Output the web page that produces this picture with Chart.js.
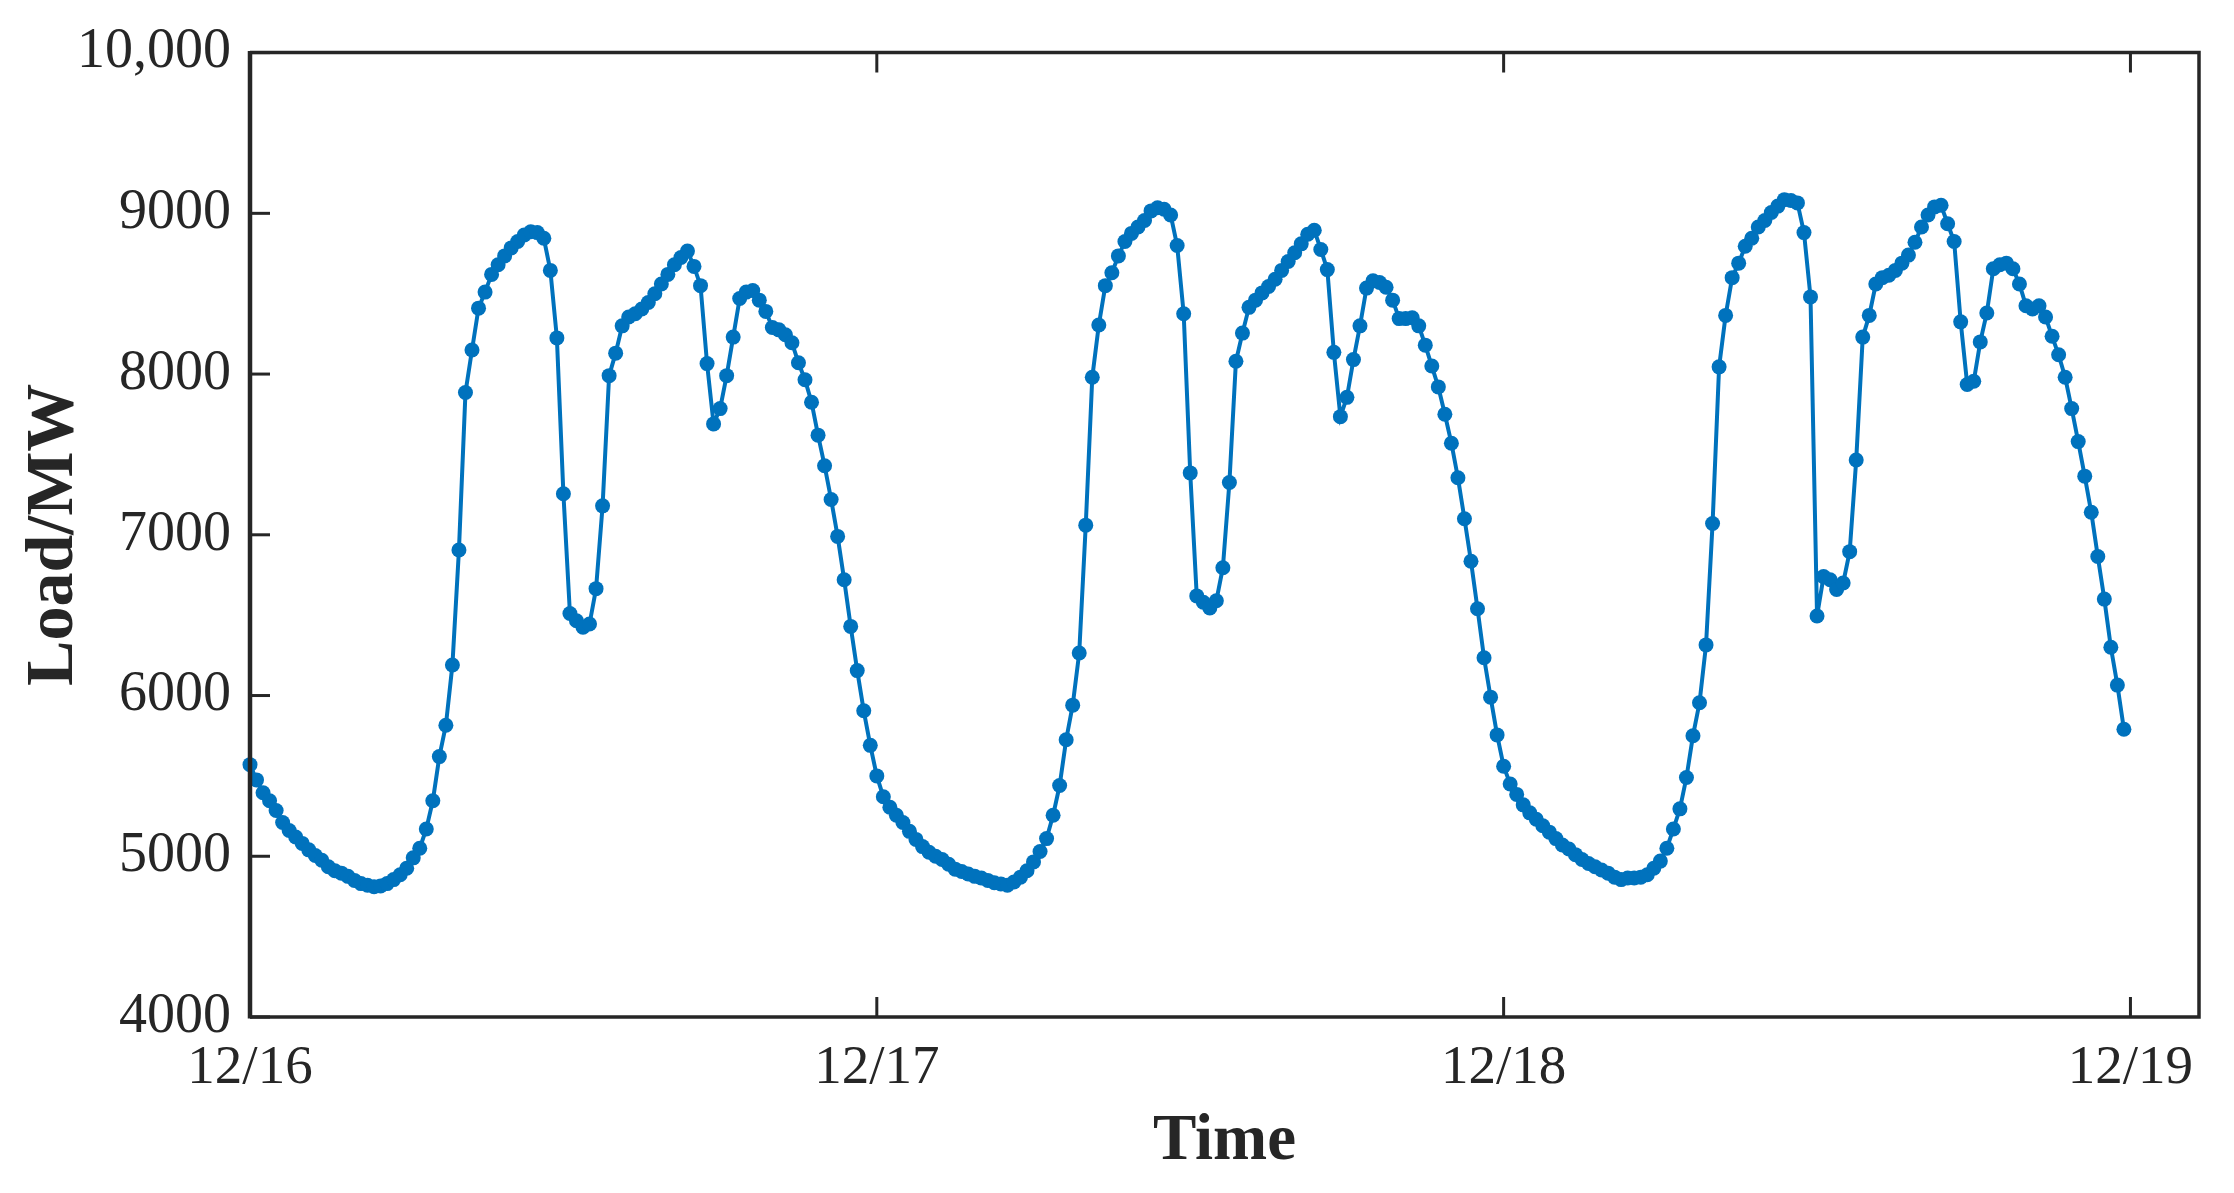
<!DOCTYPE html>
<html>
<head>
<meta charset="utf-8">
<script src="https://cdn.jsdelivr.net/npm/chart.js@4.4.1/dist/chart.umd.min.js"></script>
<style>
  html, body { margin: 0; padding: 0; background: #ffffff; }
  #wrap { width: 2234px; height: 1193px; }
</style>
</head>
<body>
<div id="wrap"><canvas id="c" width="2234" height="1193"></canvas></div>
<script>
// 15-minute load readings (MW), 96 per day
const day1 = [
  5570, 5475, 5395, 5345, 5285, 5210, 5160, 5120, 5080, 5040, 5005, 4975,
  4935, 4910, 4895, 4875, 4850, 4830, 4820, 4810, 4815, 4830, 4855, 4885,
  4925, 4990, 5050, 5170, 5345, 5620, 5815, 6190, 6905, 7885, 8150, 8410,
  8510, 8620, 8680, 8735, 8785, 8825, 8865, 8885, 8880, 8845, 8645, 8225,
  7255, 6510, 6465, 6425, 6445, 6665, 7180, 7990, 8130, 8300, 8355, 8375,
  8405, 8445, 8500, 8560, 8620, 8680, 8725, 8765, 8670, 8550, 8065, 7690,
  7785, 7990, 8230, 8470, 8510, 8520, 8460, 8390, 8290, 8275, 8245, 8195,
  8070, 7965, 7825, 7620, 7430, 7220, 6990, 6720, 6430, 6155, 5905, 5690
];
const day2 = [
  5500, 5370, 5305, 5255, 5210, 5155, 5105, 5060, 5025, 5000, 4980, 4950,
  4920, 4905, 4890, 4875, 4865, 4850, 4835, 4828, 4820, 4840, 4870, 4910,
  4965, 5030, 5110, 5255, 5440, 5725, 5940, 6265, 7060, 7980, 8305, 8550,
  8630, 8735, 8825, 8875, 8915, 8955, 9015, 9035, 9025, 8990, 8800, 8375,
  7385, 6620, 6580, 6545, 6590, 6795, 7325, 8080, 8255, 8415, 8460, 8505,
  8545, 8590, 8645, 8700, 8755, 8810, 8870, 8895, 8775, 8650, 8135, 7735,
  7855, 8090, 8300, 8535, 8580, 8570, 8540, 8460, 8345, 8345, 8350, 8300,
  8180, 8050, 7920, 7750, 7570, 7355, 7100, 6835, 6540, 6235, 5990, 5755
];
const day3 = [
  5560, 5450, 5385, 5320, 5270, 5230, 5190, 5150, 5110, 5070, 5045, 5010,
  4980, 4955, 4935, 4915, 4895, 4870, 4855, 4865, 4865, 4870, 4885, 4925,
  4970, 5050, 5170, 5295, 5490, 5750, 5955, 6315, 7070, 8045, 8365, 8600,
  8690, 8795, 8845, 8915, 8955, 9005, 9045, 9085, 9080, 9065, 8880, 8480,
  6495, 6740, 6720, 6660, 6700, 6895, 7465, 8230, 8365, 8560, 8600, 8615,
  8645, 8690, 8740, 8820, 8915, 8990, 9040, 9050, 8935, 8825, 8325, 7935,
  7955, 8200, 8380, 8655, 8680, 8690, 8655, 8560, 8425, 8405, 8425, 8355,
  8235, 8120, 7980, 7785, 7580, 7365, 7140, 6865, 6600, 6300, 6065, 5790
];
const dateLabels = ['12/16', '12/17', '12/18', '12/19'];
const yTicks = [4000, 5000, 6000, 7000, 8000, 9000, 10000];
const pointsPerDay = 96;

const load = [...day1, ...day2, ...day3];
const points = load.map((v, i) => ({ x: i, y: v }));
const xTickValues = dateLabels.map((_, d) => d * pointsPerDay);

const AXIS = '#262626';
const BLUE = '#0072BD';

const frame = {
  id: 'frame',
  afterDraw(chart) {
    const { ctx, chartArea: a, scales } = chart;
    ctx.save();
    ctx.strokeStyle = AXIS;
    ctx.lineCap = 'butt';
    // ticks (inward)
    ctx.lineWidth = 3;
    xTickValues.forEach(v => {
      const px = scales.x.getPixelForValue(v);
      ctx.beginPath();
      ctx.moveTo(px, a.bottom); ctx.lineTo(px, a.bottom - 20);
      ctx.moveTo(px, a.top); ctx.lineTo(px, a.top + 20);
      ctx.stroke();
    });
    yTicks.forEach(v => {
      const py = scales.y.getPixelForValue(v);
      ctx.beginPath();
      ctx.moveTo(a.left, py); ctx.lineTo(a.left + 20, py);
      ctx.stroke();
    });
    // box
    ctx.lineWidth = 3.5;
    ctx.beginPath();
    ctx.moveTo(a.left, a.top); ctx.lineTo(a.right, a.top);
    ctx.lineTo(a.right, a.bottom); ctx.lineTo(a.left, a.bottom);
    ctx.stroke();
    ctx.lineWidth = 4.5;
    ctx.beginPath();
    ctx.moveTo(a.left, a.top - 1.5); ctx.lineTo(a.left, a.bottom + 1.5);
    ctx.stroke();
    ctx.restore();
  }
};

new Chart(document.getElementById('c'), {
  type: 'line',
  data: {
    datasets: [{
      data: points,
      borderColor: BLUE,
      backgroundColor: BLUE,
      borderWidth: 4,
      pointRadius: 7.5,
      pointBorderWidth: 0,
      pointBackgroundColor: BLUE,
      tension: 0,
      clip: false
    }]
  },
  options: {
    responsive: false,
    devicePixelRatio: 1,
    animation: false,
    events: [],
    layout: { padding: { left: 0, right: 35, top: 42, bottom: 0 } },
    plugins: { legend: { display: false }, tooltip: { enabled: false } },
    scales: {
      x: {
        type: 'linear',
        min: 0,
        max: 298.5,
        afterBuildTicks: s => { s.ticks = xTickValues.map(v => ({ value: v })); },
        afterFit: s => { s.height = 176; },
        grid: { display: false, drawTicks: false },
        border: { display: false },
        ticks: {
          autoSkip: false,
          maxRotation: 0,
          padding: 19,
          color: AXIS,
          font: { family: 'Liberation Serif', size: 55 },
          callback: (v) => dateLabels[xTickValues.indexOf(v)]
        },
        title: {
          display: true,
          text: 'Time',
          color: AXIS,
          font: { family: 'Liberation Serif', size: 65, weight: 'bold' },
          padding: { top: 0, bottom: 12 }
        }
      },
      y: {
        min: 4000,
        max: 10000,
        afterBuildTicks: s => { s.ticks = yTicks.map(v => ({ value: v })); },
        afterFit: s => { s.width = 250; },
        grid: { display: false, drawTicks: false },
        border: { display: false },
        ticks: {
          padding: 19,
          color: AXIS,
          font: { family: 'Liberation Serif', size: 56 },
          callback: v => (v === 10000 ? '10,000' : String(v))
        },
        title: {
          display: true,
          text: 'Load/MW',
          color: AXIS,
          font: { family: 'Liberation Serif', size: 68, weight: 'bold' },
          padding: { top: 14, bottom: 0 }
        }
      }
    }
  },
  plugins: [frame]
});
</script>
</body>
</html>
